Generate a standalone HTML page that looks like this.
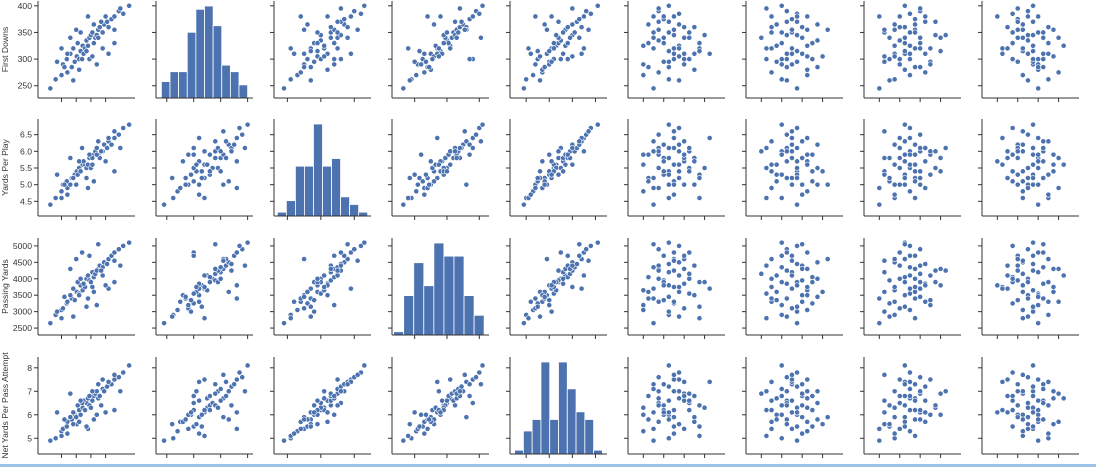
<!DOCTYPE html>
<html><head><meta charset="utf-8"><style>
body{margin:0;background:#fff;width:1096px;height:467px;overflow:hidden;font-family:"Liberation Sans",sans-serif}
svg text{font-family:"Liberation Sans",sans-serif;fill:#333}
</style></head><body>
<svg id="chart" width="1096" height="467" xmlns="http://www.w3.org/2000/svg"></svg>
<script>
// data rows: [c1, firstDowns, yardsPerPlay, passingYards, netYPA, c6, c7, c8, c9]
const teams = [
[262,245,4.4,2650,4.9,30,55,20,60],[280,262,4.6,2900,5.0,45,40,35,70],[300,270,4.8,3050,5.3,20,65,50,45],
[305,290,5.0,3100,5.4,60,50,40,55],[320,275,4.9,3300,5.7,35,30,65,80],[318,300,5.1,3250,5.5,50,70,30,35],
[335,285,5.2,3400,5.8,25,45,55,65],[330,310,5.0,3500,5.9,70,60,45,50],[345,295,5.3,3350,6.0,40,35,70,40],
[352,305,5.4,3600,5.6,55,80,25,75],[340,320,5.2,3700,6.1,30,50,60,30],[360,300,5.5,3550,6.2,65,25,50,60],
[365,315,5.4,3800,6.0,45,55,80,45],[372,325,5.6,3650,6.3,20,65,35,55],[355,330,5.3,3900,6.4,75,40,45,70],
[380,320,5.6,3750,6.2,50,30,55,25],[385,335,5.5,4000,6.5,35,75,40,50],[375,310,5.7,3850,6.6,60,45,65,65],
[395,340,5.8,3950,6.4,40,60,30,40],[390,325,5.6,4100,6.7,55,35,50,85],[400,345,5.5,3900,6.3,80,55,75,50],
[410,330,5.9,4050,6.8,25,70,45,35],[405,350,5.8,4200,6.6,45,50,25,60],[415,340,6.0,4150,6.9,65,20,60,45],
[425,355,5.9,4300,6.7,35,65,55,75],[420,345,6.1,4250,7.0,50,45,85,55],[430,360,5.8,4400,6.8,70,60,40,30],
[440,350,6.0,4350,7.1,30,40,50,65],[445,365,6.2,4500,7.0,55,75,35,45],[455,370,6.1,4450,7.2,45,55,65,55],
[460,360,6.3,4600,7.4,60,30,45,70],[470,375,6.2,4700,7.3,40,50,55,40],[480,380,6.4,4800,7.5,50,65,40,60],
[495,390,6.5,4900,7.6,35,45,60,50],[510,385,6.7,5000,7.8,55,55,50,35],[530,400,6.8,5100,8.1,45,40,45,55],
[300,320,4.6,2800,5.1,75,25,55,45],[420,290,5.9,3200,6.0,20,40,70,60],[350,355,5.0,4600,5.9,50,85,35,40],
[460,310,6.4,3700,7.4,85,50,50,25],[390,380,4.9,3400,5.4,30,30,20,50],[330,340,5.8,4300,6.9,60,60,80,80],
[480,330,5.4,3900,6.2,40,70,60,35],[370,300,6.1,4800,6.5,65,45,40,65],[285,295,5.3,3000,6.1,45,55,25,55],
[410,365,5.1,3600,5.8,25,35,55,45],[440,320,6.0,4100,7.5,55,50,70,30],[360,280,5.7,3500,5.7,70,65,45,60],
[500,395,6.1,4400,7.0,35,25,60,40],[320,310,4.7,3300,5.2,50,60,35,70],[395,300,5.9,4700,6.8,60,40,50,55],
[450,380,5.7,3800,6.1,40,55,65,20],[340,260,5.2,2850,5.6,55,45,30,50],[425,340,6.3,5050,7.3,30,60,45,65],
[365,350,5.4,4000,6.6,65,30,55,35],[310,285,5.0,3450,5.8,45,75,60,60],[480,355,6.6,4550,7.7,50,50,25,45],
[385,315,5.2,3150,5.5,75,55,45,55],[435,370,6.0,4250,6.4,35,45,75,40],[405,305,5.6,3750,7.0,55,65,35,75]
];
const rowVars = [1,2,3,4];
const rowLabels = ["First Downs","Yards Per Play","Passing Yards","Net Yards Per Pass Attempt"];
const rowDomains = [[227,409],[4.06,6.97],[2289,5241],[4.33,8.46]];
const rowTicks = [[250,300,350,400],[4.5,5.0,5.5,6.0,6.5],[2500,3000,3500,4000,4500,5000],[5,6,7,8]];
const rowTickLabels = [["250","300","350","400"],["4.5","5.0","5.5","6.0","6.5"],["2500","3000","3500","4000","4500","5000"],["5","6","7","8"]];
const colDomains = [[220,550],[230,410],[4.1,7.0],[2300,5300],[4.3,8.5],[5,100],[5,100],[5,100],[5,100]];
const colTicks = [[300,350,400,450],[250,300,350,400],[4.5,5.5,6.5],[3000,4000,5000],[5,6,7,8],[20,40,60,80],[20,40,60,80],[20,40,60,80],[20,40,60,80]];
// histograms on diagonal (row r, column r+1)
const histCounts = [[5,8,8,20,27,28,22,10,8,4],[1,4,13,13,24,13,15,5,3,1],[1,12,22,15,28,24,24,12,6],[1,6,9,24,9,24,17,11,9,1]];
const histRange = [[240,400],[4.2,6.9],[2350,5150],[4.5,8.3]];

const svg=document.getElementById('chart');
const NS="http://www.w3.org/2000/svg";
function mk(t,a,p){const e=document.createElementNS(NS,t);for(const k in a)e.setAttribute(k,a[k]);(p||svg).appendChild(e);return e;}
const colLeft=[38,156,274,392,510,628,746,864,982], W=97;
const rowTop=[1,119,238,357], H=97;
const blue="#4c72b0";
for(let r=0;r<4;r++){
  const yd=rowDomains[r], y0=rowTop[r];
  const sy=v=>y0+H-(v-yd[0])/(yd[1]-yd[0])*H;
  const lab=mk('text',{x:8,y:y0+H/2,'font-size':8.6,'text-anchor':'middle',transform:`rotate(-90 8 ${y0+H/2})`});
  lab.textContent=rowLabels[r];
  
  
  for(let c=0;c<9;c++){
    const x0=colLeft[c], xd=colDomains[c];
    const sx=v=>x0+(v-xd[0])/(xd[1]-xd[0])*W;
    const g=mk('g',{});
    
    
    if(c===r+1){
      const cnt=histCounts[r], hr=histRange[r], mx=Math.max(...cnt);
      const bw=(hr[1]-hr[0])/cnt.length;
      cnt.forEach((n,i)=>{
        const xa=sx(hr[0]+i*bw), xb=sx(hr[0]+(i+1)*bw);
        const h=n/mx*(H-5);
        const b=mk('rect',{x:xa,y:y0+H-h,width:xb-xa,height:h,fill:blue,stroke:'#fff','stroke-width':0.8},g);
        
        
      });
    } else {
      teams.forEach(t=>{
        const p=mk('circle',{cx:sx(t[c]),cy:sy(t[rowVars[r]]),r:2.6,fill:blue,stroke:'#fff','stroke-width':0.6},g);
        
        
      });
    }
    mk('line',{x1:x0,y1:y0,x2:x0,y2:y0+H,stroke:'#333','stroke-width':1},g);
    mk('line',{x1:x0,y1:y0+H,x2:x0+W,y2:y0+H,stroke:'#333','stroke-width':1},g);
    rowTicks[r].forEach((v,i)=>{
      mk('line',{x1:x0-4,y1:sy(v),x2:x0,y2:sy(v),stroke:'#333'},g);
      if(c===0){const t=mk('text',{x:x0-6,y:sy(v)+3,'font-size':8.6,'text-anchor':'end'},g);t.textContent=rowTickLabels[r][i];}
    });
    colTicks[c].forEach(v=>mk('line',{x1:sx(v),y1:y0+H,x2:sx(v),y2:y0+H+4,stroke:'#333'},g));
  }
}
const bar=mk('rect',{x:0,y:464,width:1096,height:3,fill:'#9ec5e8'});


</script>
</body></html>
